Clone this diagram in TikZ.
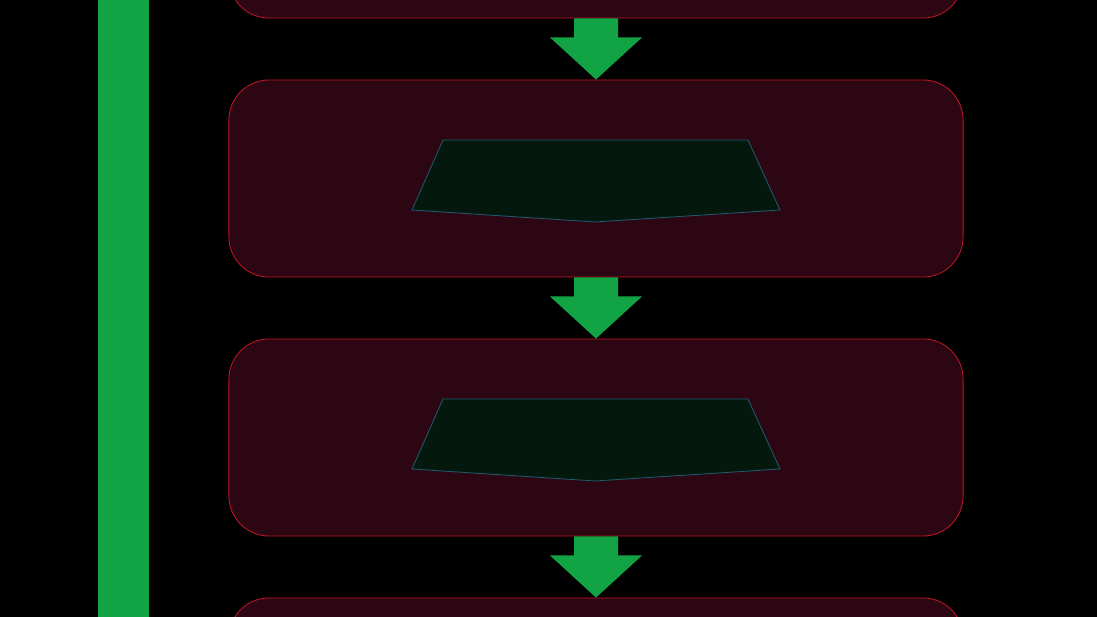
\documentclass[tikz,border=0pt]{standalone}
\usetikzlibrary{calc}
\definecolor{stagefill}{RGB}{44,7,19}
\definecolor{stageedge}{RGB}{190,20,35}
\definecolor{trayfill}{RGB}{4,24,14}
\definecolor{trayedge}{RGB}{30,90,110}
\definecolor{flowgreen}{RGB}{18,163,68}
\begin{document}
\begin{tikzpicture}[x=0.025cm,y=-0.025cm,
	stage/.style={draw=stageedge, line width=0.6, fill=stagefill, rounded corners=1cm, minimum width=18.35cm, minimum height=4.925cm, inner sep=0}]

		% black page
		\fill[black] (0,0) rectangle (1097,617);
		\useasboundingbox (0,0) rectangle (1097,617);
		\clip (0,0) rectangle (1097,617);

		% make the green bar on the left
		\fill[flowgreen] (98,-5) rectangle (149,622);

		% make the stage boxes
		\node[stage] (s1) at (596,-80.5) {};
		\node[stage] (s2) at (596,178.5) {};
		\node[stage] (s3) at (596,437.5) {};
		\node[stage] (s4) at (596,696.5) {};

		% make the trays inside the boxes
		\foreach \s in {s1,s2,s3,s4}{
			\draw[trayedge, fill=trayfill, line width=0.6] ($(\s.center)+(-153,-38.5)$) -- ($(\s.center)+(152,-38.5)$) -- ($(\s.center)+(184,31.5)$) -- ($(\s.center)+(-1,43.5)$) -- ($(\s.center)+(-184,31.5)$) -- cycle;
		}

		% make the green arrows between the boxes
		\foreach \a/\b in {s1/s2,s2/s3,s3/s4}{
			\fill[flowgreen] ($(\a.south)+(-22,0)$) -- ($(\a.south)+(22,0)$) -- ($(\a.south)+(22,19)$) -- ($(\a.south)+(46,19)$) -- (\b.north) -- ($(\a.south)+(-46,19)$) -- ($(\a.south)+(-22,19)$) -- cycle;
		}

\end{tikzpicture}
\end{document}
